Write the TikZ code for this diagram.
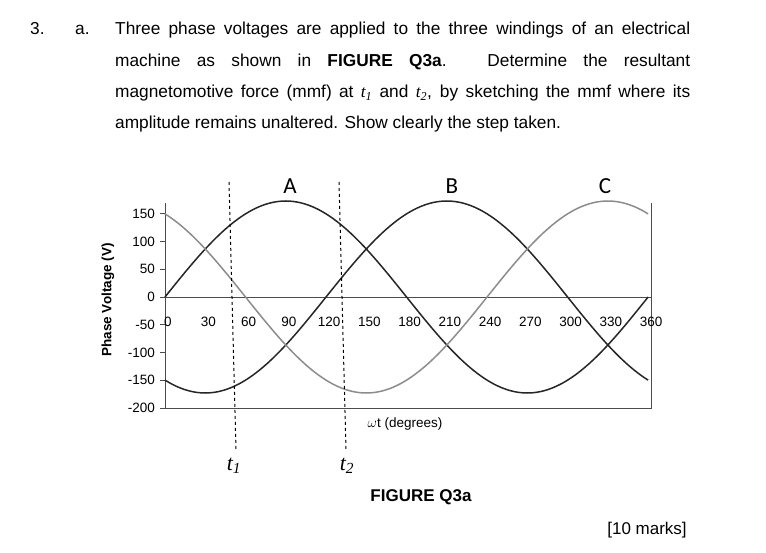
\documentclass[tikz,border=0pt]{standalone}
\usepackage{fontspec}
\setmainfont{Liberation Sans}
\newfontfamily\labelfont{Carlito}
\newfontfamily\timesfont{Liberation Serif}
\usetikzlibrary{positioning}

\tikzset{
    qtext/.style={anchor=base west, inner sep=0pt, font=\fontsize{17.3}{20}\selectfont},
    ticklab/.style={font=\fontsize{13.5}{15}\selectfont, inner sep=0pt},
    phase/.style={line width=1.5pt, smooth},
    tline/.style={dashed, line width=1pt},
}

\begin{document}
\begin{tikzpicture}[x=1pt,y=-1pt]
    \useasboundingbox (0,0) rectangle (766,553);

    % question text
    \node[qtext] (num) at (30,35) {3.};
    \node[qtext] (part) at (75,35) {a.};
    \node[qtext] (l1) at (115,35) {\makebox[575pt][s]{Three phase voltages are applied to the three windings of an electrical}};
    \node[qtext] (l2) at (115,67) {\makebox[575pt][s]{machine as shown in \textbf{FIGURE Q3a}. Determine the resultant}};
    \node[qtext] (l3) at (115,98) {\makebox[575pt][s]{magnetomotive force (mmf) at {\timesfont\itshape t\textsubscript{1}} and {\timesfont\itshape t\textsubscript{2}}, by sketching the mmf where its}};
    \node[qtext] (l4) at (115,129) {amplitude remains unaltered. Show clearly the step taken.};

    % frame and axes
    \draw[line width=0.8pt, black!70] (165,203) -- (165,408) -- (651,408) -- (651,203);
    \draw[line width=0.8pt, black!70] (165,297) -- (651,297);
    \foreach \v in {150,100,...,-200} {
        \draw[line width=0.8pt, black!70] (160,{297-0.555*\v}) -- (165,{297-0.555*\v});
        \node[ticklab, anchor=east] at (155,{297-0.555*\v}) {\v};
    }
    \foreach \d in {0,30,...,360} {
        \node[ticklab] at ({168+1.342*\d},322) {\d};
    }
    \node[ticklab, rotate=90, font=\bfseries\fontsize{13.5}{15}\selectfont] (ylab) at (108,300) {Phase Voltage (V)};
    \node[ticklab] (xlab) at (405,424) {$\omega$t (degrees)};

    % phase curves
    \draw[phase, black!85] plot[domain=0:360, samples=73] ({165+1.342*\x},{297-96*sin(\x)});
    \draw[phase, black!85] plot[domain=0:360, samples=73] ({165+1.342*\x},{297-96*sin(\x-120)});
    \draw[phase, black!45] plot[domain=0:360, samples=73] ({165+1.342*\x},{297-96*sin(\x+120)});

    \node[font=\labelfont\fontsize{23}{26}\selectfont] (A) at (290,186) {A};
    \node[font=\labelfont\fontsize{23}{26}\selectfont] (B) at (452,186) {B};
    \node[font=\labelfont\fontsize{23}{26}\selectfont] (C) at (605,186) {C};

    % instants
    \coordinate (t1top) at (229,182);
    \coordinate (t1bot) at (236,450);
    \coordinate (t2top) at (339,182);
    \coordinate (t2bot) at (346,450);
    \draw[tline] (t1top) -- (t1bot);
    \draw[tline] (t2top) -- (t2bot);
    \node[font=\timesfont\itshape\fontsize{22}{24}\selectfont] (t1) at (234,466) {t\textsubscript{1}};
    \node[font=\timesfont\itshape\fontsize{22}{24}\selectfont] (t2) at (347,466) {t\textsubscript{2}};

    \node[font=\bfseries\fontsize{17}{20}\selectfont] (fig) at (421,497) {FIGURE Q3a};
    \node[font=\fontsize{17}{20}\selectfont] (marks) at (647,530) {[10 marks]};
\end{tikzpicture}
\end{document}
